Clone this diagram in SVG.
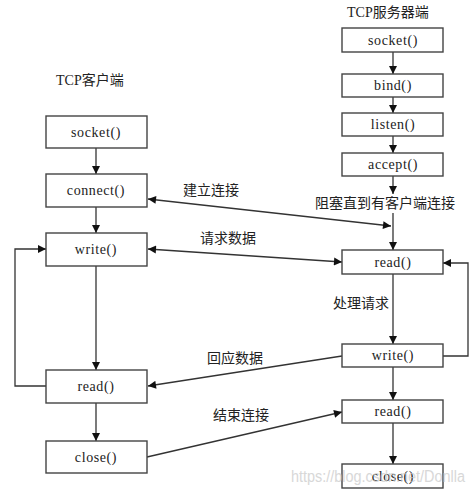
<svg xmlns="http://www.w3.org/2000/svg" width="474" height="493" viewBox="0 0 474 493">
<style>
.box{fill:#fff;stroke:#444;stroke-width:1.4}
.fn{font-family:"Liberation Serif","Times New Roman",serif;font-size:14px;letter-spacing:0.6px;fill:#222;text-anchor:middle}
.lbl{font-family:"Liberation Serif","Noto Sans CJK SC",sans-serif;font-size:14px;fill:#222}
.ln{fill:none;stroke:#333;stroke-width:1.3}
.wm{font-family:"Liberation Sans",Arial,sans-serif;font-size:16px;fill:#c8c8c8;opacity:0.7}
</style>
<defs>
<marker id="ah" viewBox="0 0 10 10" refX="10" refY="5" markerUnits="userSpaceOnUse" markerWidth="9" markerHeight="8" orient="auto-start-reverse">
<path d="M0,0 L10,5 L0,10 z" fill="#111"/>
</marker>
</defs>
<rect width="474" height="493" fill="#fff"/>

<text class="lbl" x="347" y="17">TCP服务器端</text>
<text class="lbl" x="56" y="85">TCP客户端</text>

<g id="connectors">
<line class="ln" x1="96" y1="148" x2="96" y2="174" marker-end="url(#ah)"/>
<line class="ln" x1="96" y1="207" x2="96" y2="233" marker-end="url(#ah)"/>
<line class="ln" x1="96" y1="266" x2="96" y2="370" marker-end="url(#ah)"/>
<line class="ln" x1="96" y1="403" x2="96" y2="441" marker-end="url(#ah)"/>
<polyline class="ln" points="46,386 15,386 15,249 46,249" marker-end="url(#ah)"/>
<line class="ln" x1="393" y1="52" x2="393" y2="74" marker-end="url(#ah)"/>
<line class="ln" x1="393" y1="97" x2="393" y2="113" marker-end="url(#ah)"/>
<line class="ln" x1="393" y1="136" x2="393" y2="153" marker-end="url(#ah)"/>
<line class="ln" x1="393" y1="176" x2="393" y2="194" marker-end="url(#ah)"/>
<line class="ln" x1="393" y1="213" x2="393" y2="250" marker-end="url(#ah)"/>
<line class="ln" x1="393" y1="274" x2="393" y2="344" marker-end="url(#ah)"/>
<line class="ln" x1="393" y1="367" x2="393" y2="400" marker-end="url(#ah)"/>
<line class="ln" x1="393" y1="423" x2="393" y2="464" marker-end="url(#ah)"/>
<polyline class="ln" points="443,356 468,356 468,263 443,263" marker-end="url(#ah)"/>
<line class="ln" x1="148" y1="199" x2="391" y2="226" marker-start="url(#ah)" marker-end="url(#ah)"/>
<line class="ln" x1="148" y1="249" x2="342" y2="262" marker-start="url(#ah)" marker-end="url(#ah)"/>
<line class="ln" x1="342" y1="356" x2="148" y2="386" marker-end="url(#ah)"/>
<line class="ln" x1="147" y1="457" x2="342" y2="412" marker-end="url(#ah)"/>
</g>

<text class="lbl" x="183" y="195">建立连接</text>
<text class="lbl" x="315" y="208">阻塞直到有客户端连接</text>
<text class="lbl" x="200" y="243">请求数据</text>
<text class="lbl" x="333" y="308">处理请求</text>
<text class="lbl" x="207" y="363">回应数据</text>
<text class="lbl" x="213" y="420">结束连接</text>

<g id="c_socket"><rect class="box" x="46" y="116" width="101" height="32"/><text class="fn" x="96" y="137">socket()</text></g>
<g id="c_connect"><rect class="box" x="46" y="174" width="101" height="33"/><text class="fn" x="96" y="195">connect()</text></g>
<g id="c_write"><rect class="box" x="46" y="233" width="101" height="33"/><text class="fn" x="96" y="254">write()</text></g>
<g id="c_read"><rect class="box" x="46" y="370" width="101" height="33"/><text class="fn" x="96" y="391">read()</text></g>
<g id="c_close"><rect class="box" x="46" y="441" width="101" height="32"/><text class="fn" x="96" y="462">close()</text></g>

<g id="s_socket"><rect class="box" x="342" y="28" width="101" height="24"/><text class="fn" x="393" y="45">socket()</text></g>
<g id="s_bind"><rect class="box" x="342" y="74" width="101" height="23"/><text class="fn" x="393" y="90">bind()</text></g>
<g id="s_listen"><rect class="box" x="342" y="113" width="101" height="23"/><text class="fn" x="393" y="129">listen()</text></g>
<g id="s_accept"><rect class="box" x="342" y="153" width="101" height="23"/><text class="fn" x="393" y="169">accept()</text></g>
<g id="s_read"><rect class="box" x="342" y="250" width="101" height="24"/><text class="fn" x="393" y="267">read()</text></g>
<g id="s_write"><rect class="box" x="342" y="344" width="101" height="23"/><text class="fn" x="393" y="360">write()</text></g>
<g id="s_read2"><rect class="box" x="342" y="400" width="101" height="23"/><text class="fn" x="393" y="416">read()</text></g>
<g id="s_close"><rect class="box" x="342" y="464" width="101" height="24"/><text class="fn" x="393" y="481">close()</text></g>

<text class="wm" x="291" y="482" textLength="174" lengthAdjust="spacingAndGlyphs">https://blog.csdn.net/Donlla</text>
</svg>
